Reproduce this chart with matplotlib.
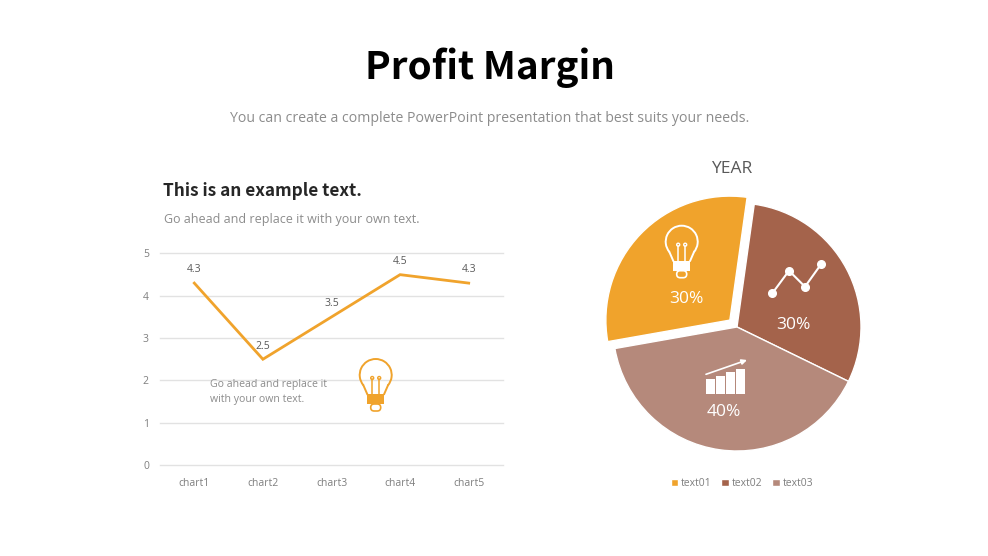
import matplotlib
matplotlib.use('Agg')
import matplotlib.pyplot as plt
from matplotlib.patches import Arc, Circle, Rectangle, FancyBboxPatch

W, H = 988, 556

plt.rcParams['font.family'] = ['Open Sans', 'DejaVu Sans']
BOLD = ['Noto Sans CJK KR', 'DejaVu Sans']

categories = ['chart1', 'chart2', 'chart3', 'chart4', 'chart5']
line_values = [4.3, 2.5, 3.5, 4.5, 4.3]
y_ticks = [0, 1, 2, 3, 4, 5]

pie_labels = ['text01', 'text02', 'text03']
pie_values = [30, 30, 40]
pie_explode = [0.08, 0, 0]
pie_colors = ['#F0A32C', '#A4634B', '#B5897B']
pct_pos = [(686.5, 299), (793.5, 325), (724, 412.5)]

ORANGE = '#F0A32C'
GRAY = '#8C8C8C'


def px_axes(fig, left, top, right, bottom, **kw):
    return fig.add_axes([left / W, 1 - bottom / H, (right - left) / W, (bottom - top) / H], **kw)


def bulb(ax, cx, cy, color):
    lw = 1.4
    ax.add_patch(Arc((cx, cy), 32, 32, theta1=140, theta2=40, color=color, lw=lw))
    ax.plot([cx - 12.3, cx - 8.5], [cy + 10.3, cy + 19], color=color, lw=lw)
    ax.plot([cx + 12.3, cx + 8.5], [cy + 10.3, cy + 19], color=color, lw=lw)
    for s in (-1, 1):
        ax.plot([cx + s * 3.5, cx + s * 3.5], [cy + 4, cy + 19], color=color, lw=1.1)
        ax.add_patch(Circle((cx + s * 3.5, cy + 3), 1.5, fill=False, ec=color, lw=1))
    ax.add_patch(Rectangle((cx - 8.5, cy + 19), 17, 10, fc=color, ec='none'))
    ax.add_patch(FancyBboxPatch((cx - 5, cy + 29), 10, 7, boxstyle='round,pad=0,rounding_size=3.5',
                                fill=False, ec=color, lw=1.2))


fig = plt.figure(figsize=(W / 100, H / 100), dpi=100, facecolor='white')

# line chart
ax = px_axes(fig, 160, 253.5, 503, 465)
ax.plot(categories, line_values, color=ORANGE, lw=2, solid_joinstyle='miter')
for i, v in enumerate(line_values):
    ax.annotate(str(v), (i, v), xytext=(0, 9.5), textcoords='offset points',
                ha='center', va='center', fontsize=7.5, color='#595959')
ax.set_xlim(-0.5, 4.5)
ax.set_ylim(0, 5)
ax.set_yticks(y_ticks)
ax.grid(axis='y', color='#E2E2E2', lw=1, clip_on=False)
ax.set_axisbelow(True)
ax.tick_params(length=0, labelsize=7.5, labelcolor='#7F7F7F')
ax.tick_params(axis='x', pad=9)
ax.tick_params(axis='y', pad=8)
for s in ax.spines.values():
    s.set_visible(False)

# pie chart, 124 px per unit around (737, 327)
span = 1.35 * 124
ax2 = px_axes(fig, 737 - span, 327 - span, 737 + span, 327 + span)
wedges, _ = ax2.pie(pie_values, explode=pie_explode, colors=pie_colors, startangle=190,
                    counterclock=False, radius=1, wedgeprops={'edgecolor': 'white', 'linewidth': 1})
ax2.set_xlim(-1.35, 1.35)
ax2.set_ylim(-1.35, 1.35)
leg = fig.legend(wedges, pie_labels, loc='center', bbox_to_anchor=(742 / W, 1 - 483.5 / H), ncol=3,
                 frameon=False, fontsize=7.5, labelcolor='#7F7F7F', handlelength=0.7, handleheight=0.7,
                 handletextpad=0.3, columnspacing=0.95)

# text and icons in pixel coordinates
top = px_axes(fig, 0, 0, W, H, facecolor='none')
top.set_xlim(0, W)
top.set_ylim(H, 0)
top.axis('off')

top.text(490, 68, 'Profit Margin', ha='center', va='center', fontsize=27.8, fontweight='bold',
         color='black', family=BOLD)
top.text(490, 118, 'You can create a complete PowerPoint presentation that best suits your needs.',
         ha='center', va='center', fontsize=10.15, color=GRAY)
top.text(163, 191, 'This is an example text.', ha='left', va='center', fontsize=12.4, fontweight='bold',
         color='#262626', family=BOLD)
top.text(164, 219, 'Go ahead and replace it with your own text.', ha='left', va='center', fontsize=9, color=GRAY)
top.text(210, 384.5, 'Go ahead and replace it', ha='left', va='center', fontsize=7.6, color=GRAY)
top.text(210, 399.5, 'with your own text.', ha='left', va='center', fontsize=7.6, color=GRAY)
top.text(732, 169, 'YEAR', ha='center', va='center', fontsize=12.5, color='#595959')

for v, (x, y) in zip(pie_values, pct_pos):
    top.text(x, y, f'{v}%', ha='center', va='center', fontsize=12.5, color='white')

bulb(top, 375.7, 375, ORANGE)
bulb(top, 681.7, 241.7, 'white')

# trend icon
top.plot([772.3, 789, 805, 821], [293.3, 270.7, 286.7, 264.3], color='white', lw=1.5,
         marker='o', ms=5.5, mfc='white', mec='white')

# bars icon
for x0, t in zip([706, 716, 726, 736], [379, 376, 371.7, 369]):
    top.add_patch(Rectangle((x0, t), 8.7, 394 - t, fc='white', ec='none'))
top.annotate('', xy=(747, 360), xytext=(706, 374.3),
             arrowprops={'arrowstyle': '-|>,head_width=0.15,head_length=0.3', 'color': 'white', 'lw': 1.2,
                         'shrinkA': 0, 'shrinkB': 0})

fig.savefig('out.png', dpi=100)
